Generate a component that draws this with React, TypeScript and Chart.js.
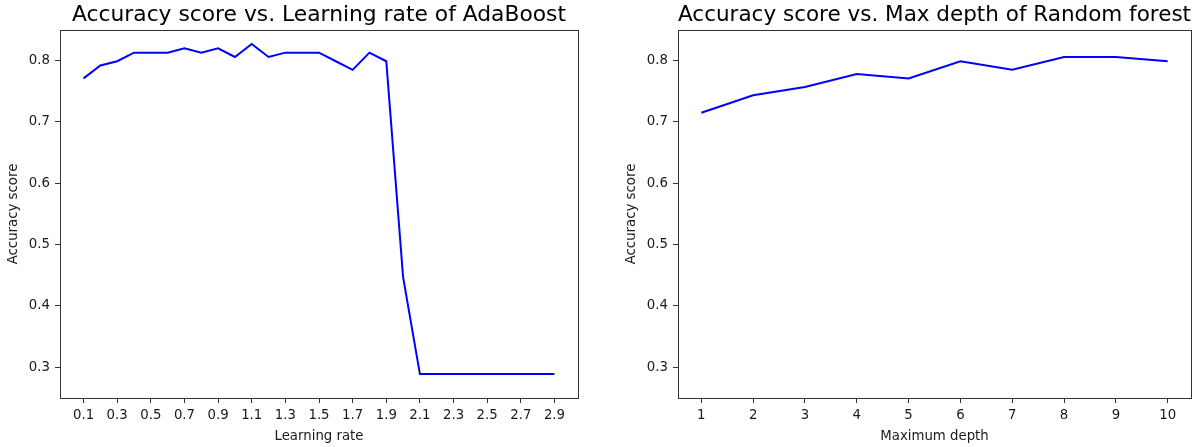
import React, { useEffect, useRef } from "react";
import { Chart, registerables } from "chart.js";

Chart.register(...registerables);

const learningRates = [
  0.1, 0.2, 0.3, 0.4, 0.5, 0.6, 0.7, 0.8, 0.9, 1.0,
  1.1, 1.2, 1.3, 1.4, 1.5, 1.6, 1.7, 1.8, 1.9, 2.0,
  2.1, 2.2, 2.3, 2.4, 2.5, 2.6, 2.7, 2.8, 2.9,
];
const adaAccuracy = [
  0.771, 0.792, 0.799, 0.813, 0.813, 0.813, 0.82, 0.813, 0.82, 0.806,
  0.827, 0.806, 0.813, 0.813, 0.813, 0.799, 0.785, 0.813, 0.799, 0.447,
  0.289, 0.289, 0.289, 0.289, 0.289, 0.289, 0.289, 0.289, 0.289,
];
const learningRateTicks = [0.1, 0.3, 0.5, 0.7, 0.9, 1.1, 1.3, 1.5, 1.7, 1.9, 2.1, 2.3, 2.5, 2.7, 2.9];

const maxDepths = [1, 2, 3, 4, 5, 6, 7, 8, 9, 10];
const rfAccuracy = [0.715, 0.7435, 0.757, 0.778, 0.771, 0.799, 0.785, 0.806, 0.806, 0.799];
const depthTicks = [1, 2, 3, 4, 5, 6, 7, 8, 9, 10];

const accuracyTicks = [0.3, 0.4, 0.5, 0.6, 0.7, 0.8];

const FONT = "DejaVu Sans";
const TEXT = "#1a1a1a";
const AXIS = "#333333";

const framePlugin = {
  id: "frame",
  afterDraw(chart: any) {
    const { ctx, chartArea } = chart;
    const { left, top, right, bottom } = chartArea;
    ctx.save();
    ctx.strokeStyle = AXIS;
    ctx.lineWidth = 1;
    ctx.strokeRect(
      Math.round(left) + 0.5,
      Math.round(top) + 0.5,
      Math.round(right) - Math.round(left),
      Math.round(bottom) - Math.round(top)
    );
    ctx.restore();
  },
};

type Cfg = {
  title: string;
  xs: number[];
  ys: number[];
  xTicks: number[];
  xMin: number;
  xMax: number;
  xLabel: string;
  xDecimals: number;
  yAxisWidth: number;
  yTitlePad: number;
  rightPad: number;
};

function makeConfig(c: Cfg): any {
  return {
    type: "line",
    data: {
      datasets: [
        {
          data: c.xs.map((x, i) => ({ x, y: c.ys[i] })),
          borderColor: "#0000ff",
          borderWidth: 2,
          pointRadius: 0,
          fill: false,
          tension: 0,
        },
      ],
    },
    options: {
      responsive: false,
      animation: false,
      devicePixelRatio: 1,
      layout: { padding: { left: 0, top: 0, right: c.rightPad, bottom: 0 } },
      plugins: {
        legend: { display: false },
        tooltip: { enabled: false },
        title: {
          display: true,
          text: c.title,
          fullSize: false,
          color: "#000",
          font: { family: FONT, size: 21.8, weight: "normal", lineHeight: 1.2 },
          padding: { top: 2, bottom: 1.8 },
        },
      },
      scales: {
        x: {
          type: "linear",
          min: c.xMin,
          max: c.xMax,
          afterBuildTicks: (scale: any) => {
            scale.ticks = c.xTicks.map((v) => ({ value: v }));
          },
          afterFit: (scale: any) => {
            scale.height = 49;
          },
          ticks: {
            autoSkip: false,
            maxRotation: 0,
            padding: 5,
            color: TEXT,
            font: { family: FONT, size: 13.3 },
            callback: (v: any) => Number(v).toFixed(c.xDecimals),
          },
          grid: {
            display: true,
            drawOnChartArea: false,
            drawTicks: true,
            tickLength: 5,
            color: AXIS,
            lineWidth: 1,
          },
          border: { display: false },
          title: {
            display: true,
            text: c.xLabel,
            color: TEXT,
            font: { family: FONT, size: 13.3, lineHeight: 1.2 },
            padding: { top: 0, bottom: 2 },
          },
        },
        y: {
          type: "linear",
          min: 0.25,
          max: 0.85,
          afterBuildTicks: (scale: any) => {
            scale.ticks = accuracyTicks.map((v) => ({ value: v }));
          },
          afterFit: (scale: any) => {
            scale.width = c.yAxisWidth;
          },
          ticks: {
            padding: 5,
            color: TEXT,
            font: { family: FONT, size: 13.3 },
            callback: (v: any) => Number(v).toFixed(1),
          },
          grid: {
            display: true,
            drawOnChartArea: false,
            drawTicks: true,
            tickLength: 5,
            color: AXIS,
            lineWidth: 1,
          },
          border: { display: false },
          title: {
            display: true,
            text: "Accuracy score",
            color: TEXT,
            font: { family: FONT, size: 13.3, lineHeight: 1.2 },
            padding: { top: c.yTitlePad, bottom: 0 },
          },
        },
      },
    },
    plugins: [framePlugin],
  };
}

function ChartPanel({ cfg, left }: { cfg: Cfg; left: number }) {
  const ref = useRef<HTMLCanvasElement | null>(null);
  useEffect(() => {
    if (!ref.current) return;
    const chart = new Chart(ref.current, makeConfig(cfg));
    return () => chart.destroy();
  }, [cfg]);
  return (
    <div style={{ position: "absolute", left, top: 0, width: 600, height: 447 }}>
      <canvas ref={ref} width={600} height={447} style={{ width: 600, height: 447, display: "block" }} />
    </div>
  );
}

const adaCfg: Cfg = {
  title: "Accuracy score vs. Learning rate of AdaBoost",
  xs: learningRates,
  ys: adaAccuracy,
  xTicks: learningRateTicks,
  xMin: -0.04,
  xMax: 3.04,
  xLabel: "Learning rate",
  xDecimals: 1,
  yAxisWidth: 60,
  yTitlePad: 6,
  rightPad: 22,
};

const rfCfg: Cfg = {
  title: "Accuracy score vs. Max depth of Random forest",
  xs: maxDepths,
  ys: rfAccuracy,
  xTicks: depthTicks,
  xMin: 0.55,
  xMax: 10.45,
  xLabel: "Maximum depth",
  xDecimals: 0,
  yAxisWidth: 78,
  yTitlePad: 24,
  rightPad: 9,
};

export default function App() {
  return (
    <div style={{ position: "fixed", left: 0, top: 0, width: 1200, height: 447, background: "#fff" }}>
      <ChartPanel cfg={adaCfg} left={0} />
      <ChartPanel cfg={rfCfg} left={600} />
    </div>
  );
}
